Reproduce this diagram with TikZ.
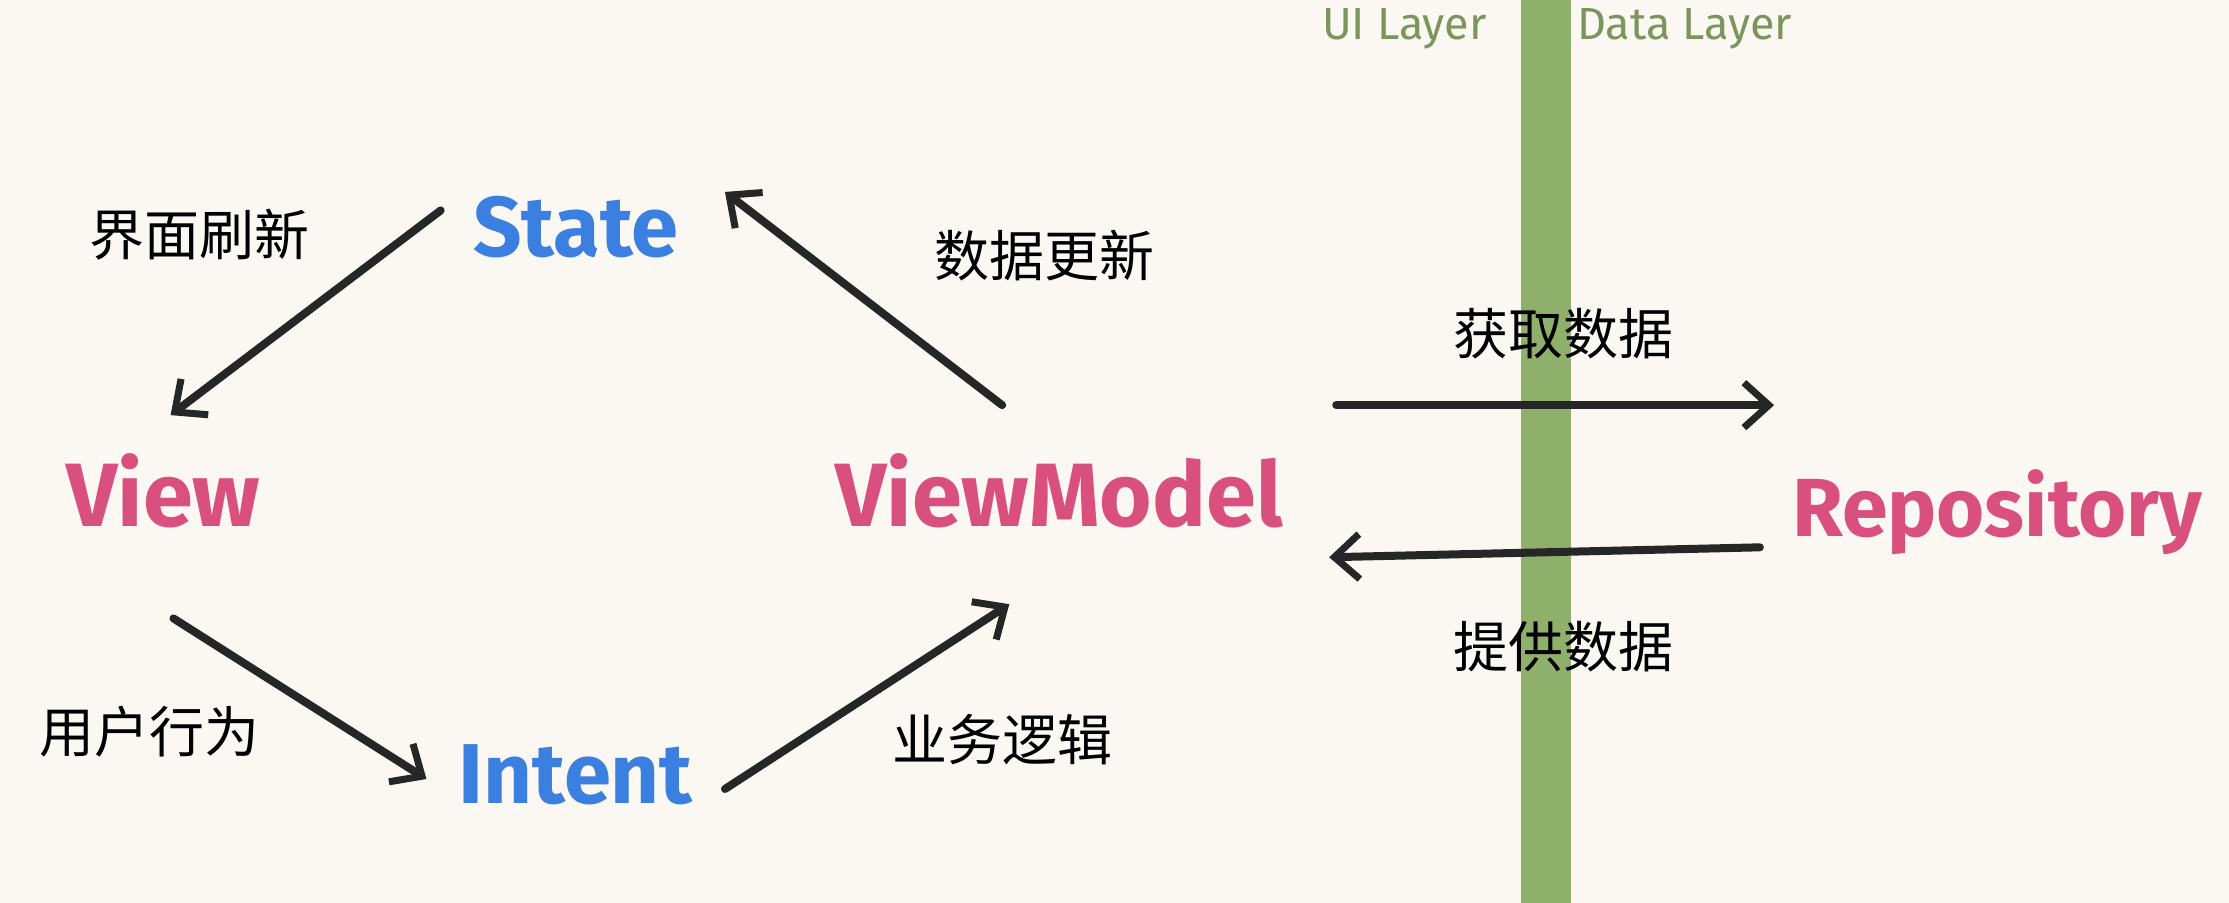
\documentclass[tikz,border=0pt]{standalone}
\usepackage{fontspec}
\setmainfont{Fira Sans}
\newfontfamily\cjk{Noto Sans CJK SC}
\usetikzlibrary{arrows.meta}
\definecolor{bg}{HTML}{FBF8F3}
\definecolor{lay}{HTML}{8FB06A}
\definecolor{pinkc}{HTML}{D9507E}
\definecolor{bluec}{HTML}{3B7FE0}
\begin{document}
\begin{tikzpicture}[x=0.01cm,y=-0.01cm,
  comp/.style={font=\fontsize{18}{18}\selectfont\bfseries, text=pinkc, inner sep=0pt},
  mvi/.style={font=\fontsize{17}{17}\selectfont\bfseries, text=bluec, inner sep=0pt},
  lab/.style={font=\cjk\fontsize{11}{11}\selectfont, inner sep=0pt},
  layl/.style={font=\fontsize{9}{9}\selectfont, text=lay!85!black, inner sep=0pt},
  flow/.style={line width=1.6pt, black!85, line cap=round, -{Straight Barb[length=5pt,width=9pt,line width=1.4pt]}}]
\fill[bg] (0,0) rectangle (1568,635);
\useasboundingbox (0,0) rectangle (1568,635);
\fill[lay] (1070,0) rectangle (1105,635);
\node[layl] (ui) at (988,20) {UI Layer};
\node[layl] (dl) at (1185,20) {Data Layer};
\node[mvi] (state) at (405,160) {State};
\node[comp] (view) at (115,345) {View};
\node[comp] (vm) at (745,345) {ViewModel};
\node[comp,font=\fontsize{16.5}{17}\selectfont\bfseries] (repo) at (1405,360) {Repository};
\node[mvi] (intent) at (405,545) {Intent};
\coordinate (a1) at (310,148); \coordinate (a2) at (120,292);
\coordinate (b1) at (705,285); \coordinate (b2) at (510,135);
\coordinate (c1) at (122,435); \coordinate (c2) at (300,548);
\coordinate (d1) at (510,555); \coordinate (d2) at (710,425);
\coordinate (e1) at (940,285); \coordinate (e2) at (1248,285);
\coordinate (f1) at (1238,385); \coordinate (f2) at (935,392);
\draw[flow] (a1) -- (a2);
\draw[flow] (b1) -- (b2);
\draw[flow] (c1) -- (c2);
\draw[flow] (d1) -- (d2);
\draw[flow] (e1) -- (e2);
\draw[flow] (f1) -- (f2);
\node[lab] at (140,165) {界面刷新};
\node[lab] at (735,180) {数据更新};
\node[lab] at (1100,235) {获取数据};
\node[lab] at (1100,455) {提供数据};
\node[lab] at (105,515) {用户行为};
\node[lab] at (705,520) {业务逻辑};
\end{tikzpicture}
\end{document}
